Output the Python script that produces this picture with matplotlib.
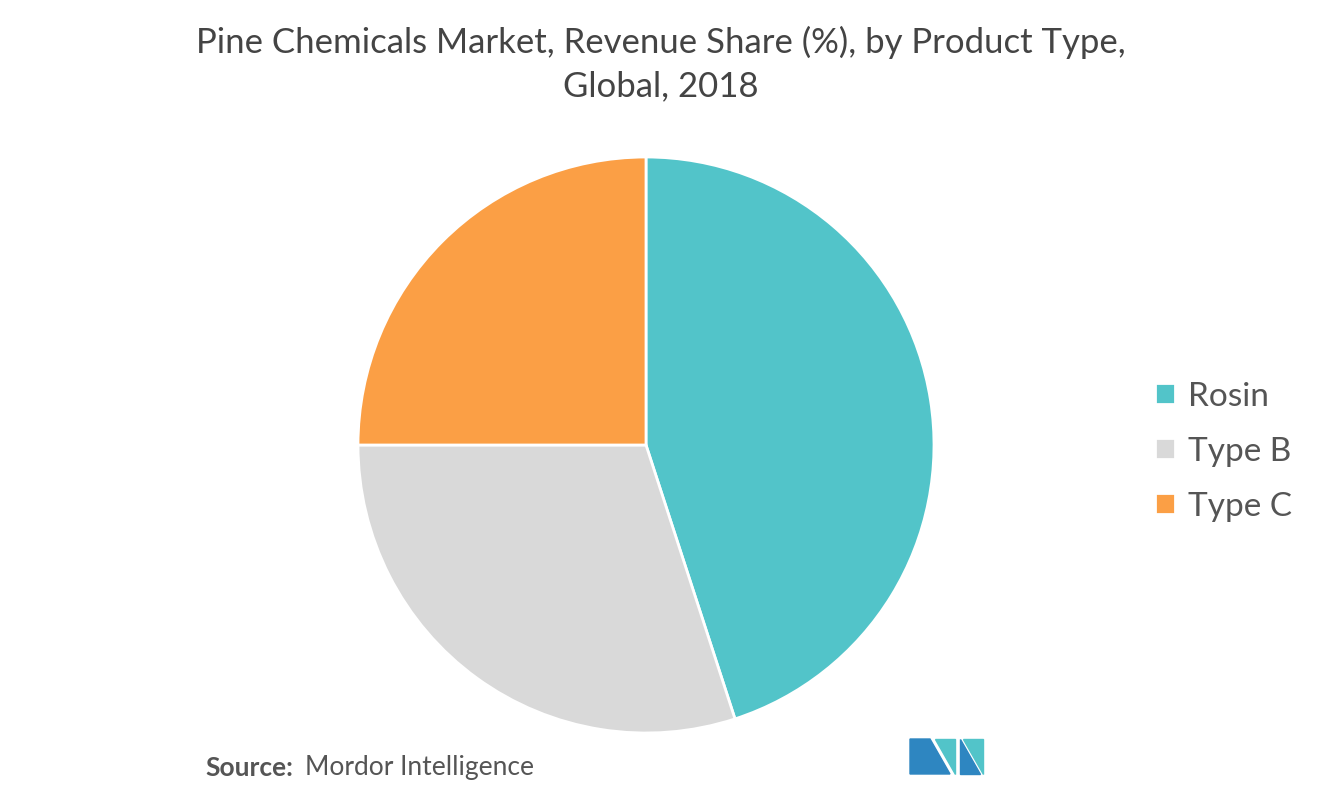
import matplotlib.pyplot as plt
from matplotlib.patches import Polygon

labels = ['Rosin', 'Type B', 'Type C']
shares = [45, 30, 25]
colors = ['#52c4c9', '#d9d9d9', '#fb9f45']

plt.rcParams['font.family'] = ['Lato', 'DejaVu Sans']

fig = plt.figure(figsize=(13.22, 8.03), dpi=100)
ax = fig.add_axes([646/1322 - 288/1322, 1 - (446+288)/803, 576/1322, 576/803])
wedges, _ = ax.pie(shares, colors=colors, startangle=90, counterclock=False,
                   wedgeprops=dict(edgecolor='white', linewidth=2))
ax.set_xlim(-1, 1)
ax.set_ylim(-1, 1)
ax.set_aspect('equal')

fig.text(0.5, 1 - 64/803, 'Pine Chemicals Market, Revenue Share (%), by Product Type,\nGlobal, 2018',
         ha='center', va='center', fontsize=25, color='#444444', linespacing=1.4)

fig.legend(wedges, labels, loc='center left', bbox_to_anchor=(1125/1322, 1 - 452/803),
           frameon=False, fontsize=24, labelcolor='#555555', handlelength=0.6,
           handleheight=0.6, labelspacing=0.75, handletextpad=0.4)

fig.text(205/1322, 1 - 768/803, 'Source:', fontsize=19, fontweight='bold', color='#555555', va='center')
fig.text(305/1322, 1 - 768/803, 'Mordor Intelligence', fontsize=19, color='#555555', va='center')

# logo
W, H = 1322, 803
def poly(pts, c):
    fig.patches.append(Polygon([(x/W, 1 - y/H) for x, y in pts], closed=True,
                               color=c, transform=fig.transFigure))
poly([(910, 775), (910, 740), (930, 740), (950, 775)], '#2e86c1')
poly([(935, 740), (955, 740), (955, 775)], '#52c4c9')
poly([(960, 740), (960, 775), (980, 775)], '#2e86c1')
poly([(963, 740), (983, 740), (983, 775)], '#52c4c9')

fig.savefig('out.png', dpi=100)
